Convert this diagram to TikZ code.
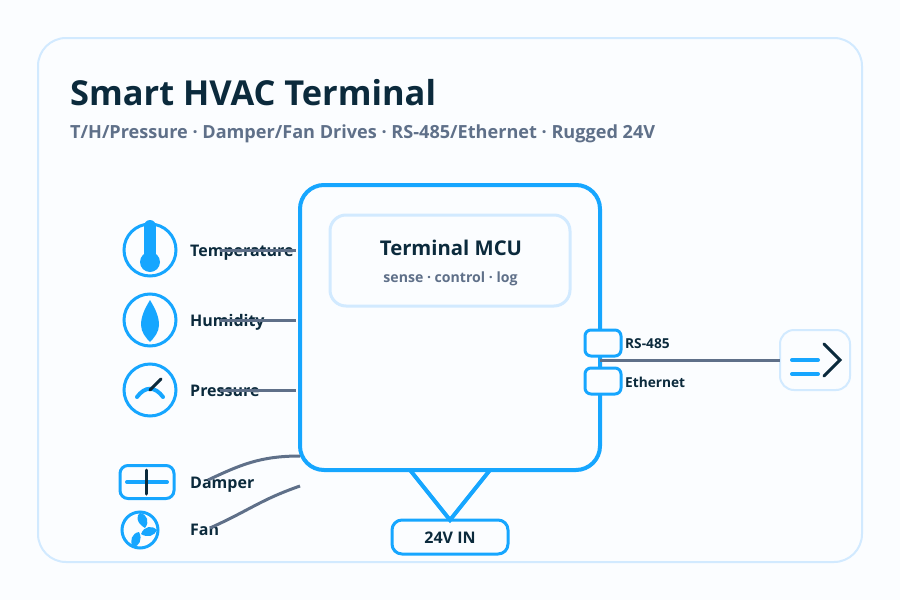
\documentclass[tikz,border=0pt]{standalone}
\usepackage{fontspec}
\setmainfont{Open Sans}
\usetikzlibrary{positioning}
\definecolor{hvacblue}{HTML}{16A6FF}
\definecolor{hvacpale}{HTML}{D2EAFF}
\definecolor{hvacdark}{HTML}{0B2A3C}
\definecolor{hvacgrey}{HTML}{5F7089}
\definecolor{hvacback}{HTML}{FBFDFF}
\tikzset{
  framebox/.style={draw=hvacblue, line width=3pt, fill=hvacback, outer sep=0pt, inner sep=0pt},
  palebox/.style={draw=hvacpale, outer sep=0pt, inner sep=0pt},
  iconring/.style={draw=hvacblue, line width=3pt, circle, minimum size=52pt, inner sep=0pt, outer sep=0pt},
  sidelabel/.style={anchor=base west, inner sep=0pt, text=hvacdark, font=\bfseries\fontsize{16}{19}\selectfont},
  portlabel/.style={anchor=base west, inner sep=0pt, text=hvacdark, font=\bfseries\fontsize{13.7}{16}\selectfont},
  wire/.style={draw=hvacgrey, line width=3pt},
  bluestroke/.style={draw=hvacblue, line width=4pt, line cap=round},
  darkstroke/.style={draw=hvacdark, line width=3pt, line cap=round},
}
\begin{document}
\begin{tikzpicture}[x=1pt, y=-1pt]
  \useasboundingbox (0,0) rectangle (900,600);
  \fill[hvacback] (0,0) rectangle (900,600);

  % Card and headings
  \node[palebox, line width=2pt, rounded corners=28pt, minimum width=824pt, minimum height=524pt] (card) at (450,300) {};
  \node[anchor=base west, inner sep=0pt, text=hvacdark, font=\bfseries\fontsize{34.4}{40}\selectfont] (title) at (70,105) {Smart HVAC Terminal};
  \node[anchor=base west, inner sep=0pt, text=hvacgrey, font=\bfseries\fontsize{18.1}{22}\selectfont] (subtitle) at (70,138) {T/H/Pressure · Damper/Fan Drives · RS-485/Ethernet · Rugged 24V};

  % Controller box
  \node[framebox, line width=4pt, rounded corners=24pt, minimum width=300pt, minimum height=285pt] (mcu) at (450,327.5) {};
  \node[palebox, line width=3pt, rounded corners=16pt, minimum width=240pt, minimum height=91pt] (core) at (450,260.5) {};
  \node[anchor=base, text=hvacdark, inner sep=0pt, font=\bfseries\fontsize{20.3}{24}\selectfont] (coretitle) at (451,255) {Terminal MCU};
  \node[anchor=base, text=hvacgrey, inner sep=0pt, font=\bfseries\fontsize{14.1}{17}\selectfont] (coresub) at (450.5,282) {sense · control · log};

  % Sensor icons
  \node[iconring] (tempicon) at (150,250) {};
  \draw[draw=hvacblue, line width=12pt, line cap=round] (150,226) -- (150,262);
  \fill[hvacblue] (150,262) circle (10);
  \node[iconring] (humicon) at (150,320) {};
  \fill[hvacblue] (150,300) .. controls (156,310) and (159,317) .. (159,325) .. controls (159,332) and (154,338) .. (150,342) .. controls (146,338) and (141,332) .. (141,325) .. controls (141,317) and (144,310) .. (150,300);
  \node[iconring] (presicon) at (150,390) {};
  \draw[bluestroke] (137,397) .. controls (145,386) and (155,386) .. (163,397);
  \draw[darkstroke] (150,390) -- (161,379);

  % Drive icons
  \node[framebox, rounded corners=8pt, minimum width=54pt, minimum height=33pt] (dampicon) at (147,482) {};
  \draw[bluestroke] (127,482) -- (167,482);
  \draw[darkstroke] (146,470) -- (146,494);
  \node[draw=hvacblue, line width=3pt, circle, minimum size=36pt, inner sep=0pt, outer sep=0pt] (fanicon) at (140,530) {};
  \fill[hvacblue] (145,528) .. controls (136,523) and (136,515) .. (140,513) .. controls (147,514) and (150,522) .. (145,528);
  \fill[hvacblue] (141,534) .. controls (144,526) and (152,525) .. (157,530) .. controls (155,536) and (147,538) .. (141,534);
  \fill[hvacblue] (139,532) .. controls (132,533) and (129,541) .. (133,547) .. controls (139,547) and (143,539) .. (139,532);

  % Labels
  \node[sidelabel] (templabel) at (190,256) {Temperature};
  \node[sidelabel] (humlabel) at (190,326) {Humidity};
  \node[sidelabel] (preslabel) at (190,396) {Pressure};
  \node[sidelabel] (damplabel) at (190,488) {Damper};
  \node[sidelabel] (fanlabel) at (190,535) {Fan};

  % Wires
  \coordinate (tempfrom) at (220,250);
  \coordinate (tempto) at (296,250);
  \coordinate (humfrom) at (220,320);
  \coordinate (humto) at (296,320);
  \coordinate (presfrom) at (220,390);
  \coordinate (presto) at (296,390);
  \coordinate (dampfrom) at (208,480);
  \coordinate (dampto) at (300,456);
  \coordinate (fanfrom) at (210,528);
  \coordinate (fanto) at (300,486);
  \draw[wire] (tempfrom) -- (tempto);
  \draw[wire] (humfrom) -- (humto);
  \draw[wire] (presfrom) -- (presto);
  \draw[wire] (dampfrom) .. controls (240,465) and (260,456) .. (dampto);
  \draw[wire] (fanfrom) .. controls (250,510) and (260,500) .. (fanto);

  % Ports and output
  \node[framebox, rounded corners=6pt, minimum width=36pt, minimum height=26pt] (rsport) at (603,343) {};
  \node[framebox, rounded corners=6pt, minimum width=36pt, minimum height=26pt] (ethport) at (603,381) {};
  \node[portlabel] (rslabel) at (625,348.5) {RS-485};
  \node[portlabel] (ethlabel) at (625,387) {Ethernet};
  \node[palebox, line width=2pt, rounded corners=14pt, minimum width=70pt, minimum height=60pt] (outbox) at (815,360) {};
  \draw[wire] (mcu.east |- outbox.west) -- (outbox.west);
  \draw[bluestroke] (792,360) -- (818,360);
  \draw[bluestroke] (792,374) -- (818,374);
  \draw[darkstroke] (824,344) -- (840,360) -- (824,376);

  % Power feed
  \node[framebox, rounded corners=10pt, minimum width=116pt, minimum height=34pt] (psu) at (450,537) {};
  \node[anchor=base, text=hvacdark, inner sep=0pt, font=\bfseries\fontsize{16}{19}\selectfont] (psulabel) at (450,543) {24V IN};
  \coordinate (feedleft) at (410,470);
  \coordinate (feedright) at (490,470);
  \draw[draw=hvacblue, line width=4pt] (feedleft) -- (psu.north) -- (feedright);
\end{tikzpicture}
\end{document}
